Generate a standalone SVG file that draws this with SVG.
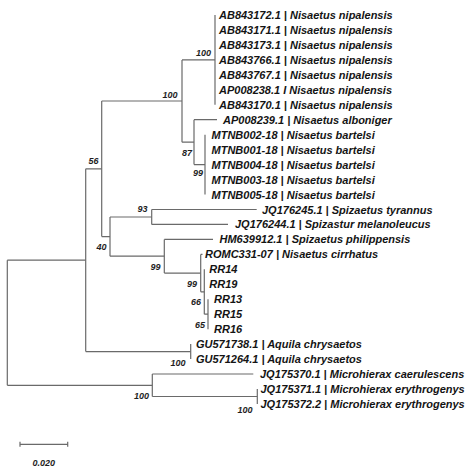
<svg xmlns="http://www.w3.org/2000/svg" width="474" height="474" viewBox="0 0 474 474">
<style>
.t{font-family:"Liberation Sans",Arial,sans-serif;font-weight:bold;font-style:italic;font-size:11px;fill:#141414}
.b{font-family:"Liberation Sans",Arial,sans-serif;font-weight:bold;font-style:italic;font-size:9px;fill:#1e1e1e}
.l{stroke:#6a6a6a;stroke-width:1.2;fill:none}
</style>
<rect width="474" height="474" fill="#fff"/>
<g id="connectors" class="l">
<!-- root -->
<path d="M7.3,260.2V385.3M7.3,260.2H85.7M7.3,385.3H152.3"/>
<!-- node 85.7 -->
<path d="M85.7,168.8V351.6M85.7,168.8H101.7M85.7,351.6H190.7"/>
<!-- node 56 -->
<path d="M101.7,101V236.6M101.7,101H182M101.7,236.6H110"/>
<!-- node 100b -->
<path d="M182,59.9V142.2M182,59.9H215M182,142.2H194"/>
<!-- nipalensis -->
<path d="M215,15V104.8"/>
<!-- node 87 -->
<path d="M194,119.7V164.6M194,119.7H217M194,164.6H205"/>
<!-- MTNB -->
<path d="M205,134.7V194.5"/>
<!-- node 40 -->
<path d="M110,217V256.2M110,217H151.7M110,256.2H164.3"/>
<!-- node 93 -->
<path d="M151.7,209.5V224.4M151.7,209.5H256.7M151.7,224.4H228"/>
<!-- node 99b -->
<path d="M164.3,239.4V273.1M164.3,239.4H213M164.3,273.1H200.7"/>
<!-- node 99c -->
<path d="M200.7,254.4V291.8M200.7,254.4H202.5M200.7,291.8H204.3"/>
<!-- node 66 -->
<path d="M204.3,269.3V314.2M204.3,314.2H208"/>
<!-- node 65 -->
<path d="M208,299.2V329.2"/>
<!-- aquila -->
<path d="M190.7,344.1V359.1"/>
<!-- microhierax -->
<path d="M152.3,374V396.5M152.3,374H253.3M152.3,396.5H257.3"/>
<path d="M257.3,389V404"/>
<!-- scale bar -->
<path d="M20,444.3H67.7M20,441.8V446.8M67.7,441.8V446.8"/>
</g>
<g id="leaf-AB843172" ><text class="t" x="219" y="19">AB843172.1 | Nisaetus nipalensis</text></g>
<g id="leaf-AB843171"><text class="t" x="219" y="34">AB843171.1 | Nisaetus nipalensis</text></g>
<g id="leaf-AB843173"><text class="t" x="219" y="48.9">AB843173.1 | Nisaetus nipalensis</text></g>
<g id="leaf-AB843766"><text class="t" x="219" y="63.9">AB843766.1 | Nisaetus nipalensis</text></g>
<g id="leaf-AB843767"><text class="t" x="219" y="78.8">AB843767.1 | Nisaetus nipalensis</text></g>
<g id="leaf-AP008238"><text class="t" x="219" y="93.8">AP008238.1 I Nisaetus nipalensis</text></g>
<g id="leaf-AB843170"><text class="t" x="219" y="108.8">AB843170.1 | Nisaetus nipalensis</text></g>
<g id="leaf-AP008239"><text class="t" x="223" y="123.7">AP008239.1 | Nisaetus alboniger</text></g>
<g id="leaf-MTNB002"><text class="t" x="211.5" y="138.7">MTNB002-18 | Nisaetus bartelsi</text></g>
<g id="leaf-MTNB001"><text class="t" x="211.5" y="153.6">MTNB001-18 | Nisaetus bartelsi</text></g>
<g id="leaf-MTNB004"><text class="t" x="211.5" y="168.6">MTNB004-18 | Nisaetus bartelsi</text></g>
<g id="leaf-MTNB003"><text class="t" x="211.5" y="183.6">MTNB003-18 | Nisaetus bartelsi</text></g>
<g id="leaf-MTNB005"><text class="t" x="211.5" y="198.5">MTNB005-18 | Nisaetus bartelsi</text></g>
<g id="leaf-JQ176245"><text class="t" x="262" y="213.5">JQ176245.1 | Spizaetus tyrannus</text></g>
<g id="leaf-JQ176244"><text class="t" x="235" y="228.4">JQ176244.1 | Spizastur melanoleucus</text></g>
<g id="leaf-HM639912"><text class="t" x="219.5" y="243.4">HM639912.1 | Spizaetus philippensis</text></g>
<g id="leaf-ROMC331"><text class="t" x="205" y="258.4">ROMC331-07 | Nisaetus cirrhatus</text></g>
<g id="leaf-RR14"><text class="t" x="209.3" y="273.3">RR14</text></g>
<g id="leaf-RR19"><text class="t" x="209.3" y="288.3">RR19</text></g>
<g id="leaf-RR13"><text class="t" x="214" y="303.2">RR13</text></g>
<g id="leaf-RR15"><text class="t" x="214" y="318.2">RR15</text></g>
<g id="leaf-RR16"><text class="t" x="214" y="333.2">RR16</text></g>
<g id="leaf-GU571738"><text class="t" x="196" y="348.1">GU571738.1 | Aquila chrysaetos</text></g>
<g id="leaf-GU571264"><text class="t" x="196" y="363.1">GU571264.1 | Aquila chrysaetos</text></g>
<g id="leaf-JQ175370"><text class="t" x="260" y="378">JQ175370.1 | Microhierax caerulescens</text></g>
<g id="leaf-JQ175371"><text class="t" x="260.5" y="393">JQ175371.1 | Microhierax erythrogenys</text></g>
<g id="leaf-JQ175372"><text class="t" x="260.5" y="408">JQ175372.2 | Microhierax erythrogenys</text></g>
<g id="bootstrap" text-anchor="end">
<g id="bs-nip"><text class="b" x="211" y="56.2">100</text></g>
<g id="bs-100b"><text class="b" x="177.5" y="98.2">100</text></g>
<g id="bs-87"><text class="b" x="192" y="156.2">87</text></g>
<g id="bs-mtnb"><text class="b" x="203" y="176.2">99</text></g>
<g id="bs-56"><text class="b" x="98.5" y="164.2">56</text></g>
<g id="bs-93"><text class="b" x="147.5" y="212.4">93</text></g>
<g id="bs-40"><text class="b" x="106.5" y="249.9">40</text></g>
<g id="bs-99b"><text class="b" x="160.5" y="269.9">99</text></g>
<g id="bs-99c"><text class="b" x="197" y="287.2">99</text></g>
<g id="bs-66"><text class="b" x="201" y="304.9">66</text></g>
<g id="bs-65"><text class="b" x="205" y="328.2">65</text></g>
<g id="bs-aq"><text class="b" x="185.5" y="366.2">100</text></g>
<g id="bs-mic"><text class="b" x="149" y="398.9">100</text></g>
<g id="bs-mic2"><text class="b" x="252.5" y="413.2">100</text></g>
</g>
<g id="scale-label"><text class="b" x="43.8" y="466.2" text-anchor="middle">0.020</text></g>
</svg>
